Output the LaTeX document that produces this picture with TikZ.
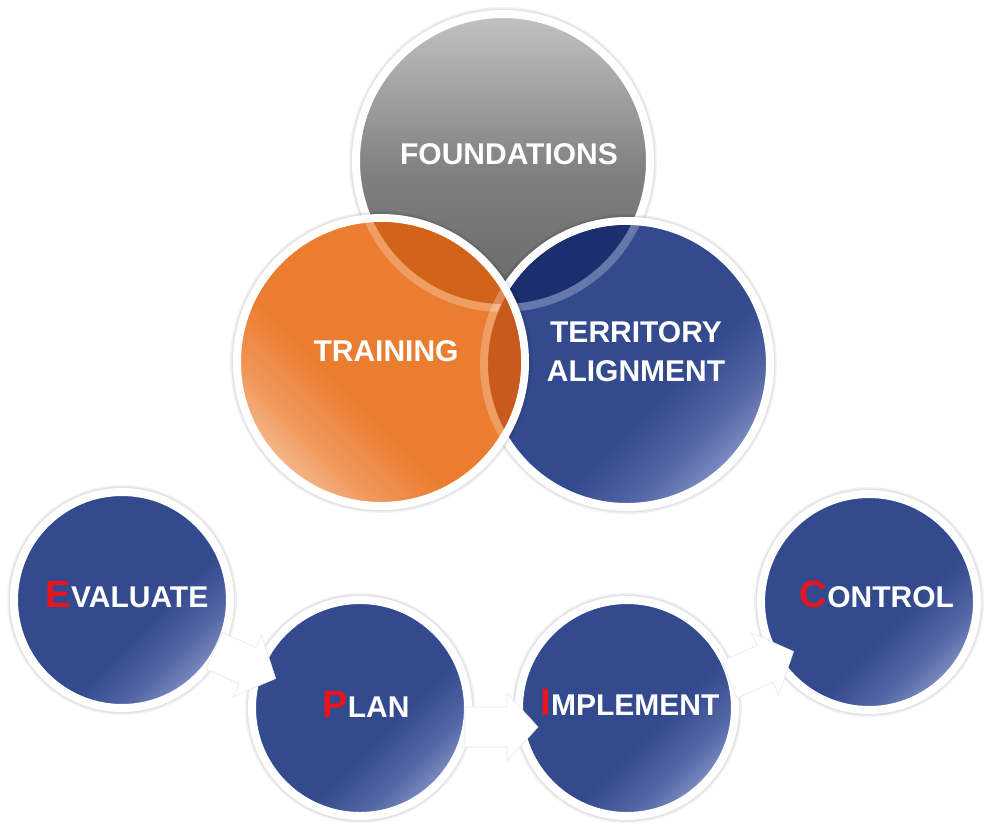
\documentclass[tikz,border=0pt]{standalone}
\usepackage{fontspec}
\setmainfont{Liberation Sans}
\usetikzlibrary{calc}
\definecolor{navy}{HTML}{344A8F}
\definecolor{navymid}{HTML}{5366A5}
\definecolor{navylight}{HTML}{8593C6}
\definecolor{org}{HTML}{EB7D30}
\definecolor{orgmid}{HTML}{F0975A}
\definecolor{orglight}{HTML}{F5BC92}
\definecolor{grA}{HTML}{C2C2C2}
\definecolor{grB}{HTML}{808080}
\definecolor{grC}{HTML}{676767}
\definecolor{foorg}{HTML}{D2641A}
\definecolor{fonavy}{HTML}{1B2F6E}
\definecolor{teorg}{HTML}{C85A1E}
\definecolor{redL}{HTML}{E8141E}
\pgfdeclareverticalshading{blueshade}{100bp}{color(0bp)=(navylight); color(24bp)=(navylight); color(32bp)=(navymid); color(42bp)=(navy); color(100bp)=(navy)}
\pgfdeclareverticalshading{orangeshade}{100bp}{color(0bp)=(orglight); color(24bp)=(orglight); color(32bp)=(orgmid); color(42bp)=(org); color(100bp)=(org)}
\pgfdeclareverticalshading{grayshade}{100bp}{color(0bp)=(grC); color(25bp)=(grC); color(48bp)=(grB); color(75bp)=(grA); color(100bp)=(grA)}
\newcommand\redcap[1]{{\color{redL}\fontsize{38}{38}\selectfont #1}}
\newcommand\flowarrow[4]{%
  \coordinate (#4a) at ($(#1)!#3!-90:(#2)$);
  \coordinate (#4b) at ($(#2)!#3!90:(#1)$);
  \coordinate (#4s) at ($(#4a)!105pt!(#4b)$);
  \coordinate (#4t) at ($(#4b)!89pt!(#4a)$);
  \coordinate (#4h) at ($(#4t)!31pt!(#4s)$);
  \coordinate (#4h1) at ($(#4h)!34pt!90:(#4t)$);
  \coordinate (#4h2) at ($(#4h)!34pt!-90:(#4t)$);
  \coordinate (#4k1) at ($(#4h)!20pt!90:(#4t)$);
  \coordinate (#4k2) at ($(#4h)!20pt!-90:(#4t)$);
  \coordinate (#4s1) at ($(#4s)!20pt!90:(#4t)$);
  \coordinate (#4s2) at ($(#4s)!20pt!-90:(#4t)$);
  \fill[black, opacity=.07, shift={(3,6)}] (#4s1) -- (#4k1) -- (#4h1) -- (#4t) -- (#4h2) -- (#4k2) -- (#4s2) -- cycle;
  \fill[black, opacity=.10, shift={(1.5,3)}] (#4s1) -- (#4k1) -- (#4h1) -- (#4t) -- (#4h2) -- (#4k2) -- (#4s2) -- cycle;
  \path[arrowbody] (#4s1) -- (#4k1) -- (#4h1) -- (#4t) -- (#4h2) -- (#4k2) -- (#4s2) -- cycle;
}
\tikzset{
  disc/.style={circle, inner sep=0pt, draw=white, line width=8pt,
    preaction={draw=black, line width=14pt, draw opacity=.05},
    preaction={draw=black, line width=11pt, draw opacity=.06}},
  bluedisc/.style={disc, shading=blueshade, shading angle=45},
  orangedisc/.style={disc, shading=orangeshade, shading angle=-45},
  graydisc/.style={disc, shading=grayshade},
  small/.style={bluedisc, minimum size=216pt},
  lbl/.style={text=white, font=\bfseries\fontsize{30}{39}\selectfont, inner sep=0pt, align=center},
  arrowbody/.style={fill=white, draw=black!8, line width=0.6pt},
  ringband/.style={draw=white, draw opacity=.25, line width=8pt},
}
\begin{document}
\begin{tikzpicture}[x=1pt, y=-1pt]
\useasboundingbox (0,0) rectangle (992,833);
\fill[white] (0,0) rectangle (992,833);

% Venn group
\node[graydisc, minimum size=294pt] (fo) at (503,161) {};
\node[bluedisc, minimum size=286pt] (te) at (627,364) {};
\begin{scope}
  \clip (te.center) circle (139);
  \fill[fonavy] (fo.center) circle (143);
  \draw[ringband] (fo.center) circle (147);
\end{scope}
\node[orangedisc, minimum size=288pt] (tr) at (381,362) {};
\begin{scope}
  \clip (tr.center) circle (140);
  \fill[foorg] (fo.center) circle (143);
  \draw[ringband] (fo.center) circle (147);
  \fill[teorg] (te.center) circle (139);
  \draw[ringband] (te.center) circle (143);
\end{scope}

\node[lbl] (foT) at ($(fo)+(6,-7)$) {FOUNDATIONS};
\node[lbl] (trT) at ($(tr)+(5,-11)$) {TRAINING};
\node[lbl] (teT) at ($(te)+(9,-12)$) {TERRITORY\\ALIGNMENT};

% process chain
\node[small] (ev) at (122,600) {};
\node[small] (pl) at (360,708) {};
\node[small] (im) at (627,708) {};
\node[small] (co) at (869,602) {};

\flowarrow{ev}{pl}{8pt}{aa}
\flowarrow{pl}{im}{19pt}{ab}
\flowarrow{im}{co}{15pt}{ac}

\node[lbl, anchor=base] (evT) at ($(ev)+(5,7)$) {\redcap{E}VALUATE};
\node[lbl, anchor=base] (plT) at ($(pl)+(6,9)$) {\redcap{P}LAN};
\node[lbl, anchor=base] (imT) at ($(im)+(3,7)$) {\redcap{I}MPLEMENT};
\node[lbl, anchor=base] (coT) at ($(co)+(8,5)$) {\redcap{C}ONTROL};
\end{tikzpicture}
\end{document}
